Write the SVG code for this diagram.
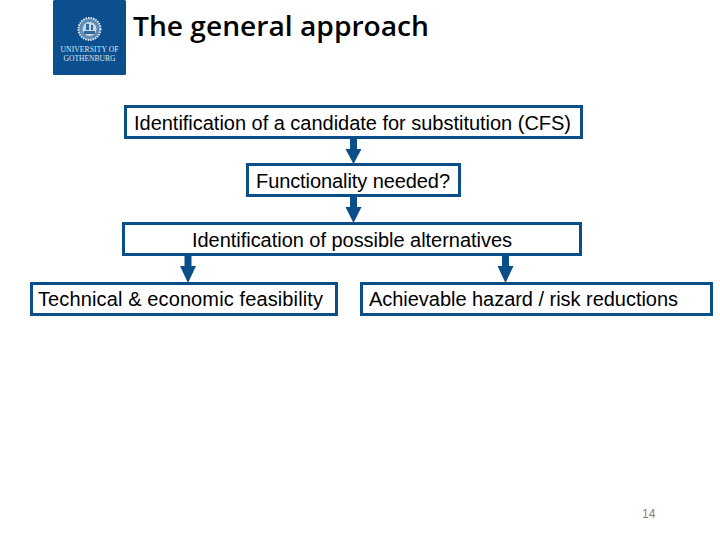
<svg xmlns="http://www.w3.org/2000/svg" width="720" height="540" viewBox="0 0 720 540">
<style>
.box{fill:#fff;stroke:#0b4f8a;stroke-width:3}
.lbl{font-family:"Liberation Sans",Arial,sans-serif;font-size:20px;fill:#000}
.shaft{fill:none;stroke:#0b4f8a;stroke-width:7}
.head{fill:#0b4f8a}
.logo{font-family:"Liberation Serif",serif;font-size:7.500px;fill:#dfe8f2;text-anchor:middle}
</style>
<rect width="720" height="540" fill="#fff"/>
<g id="logo">
<rect x="53" y="0" width="73" height="75" rx="1.500" fill="#0b4f8f"/>
<circle cx="89.500" cy="29" r="11" fill="#5f8ab3" stroke="#dfe8f2" stroke-width="2" stroke-dasharray="1.500 1"/>
<circle cx="89.500" cy="29" r="7" fill="#c9d8e8"/>
<path d="M84 31H95V34H84ZM86 24H89V30H86ZM91 25H93V30H91Z" fill="#33689c"/>
<text class="logo" x="89.500" y="52" textLength="58">UNIVERSITY OF</text>
<text class="logo" x="89.500" y="61" textLength="52">GOTHENBURG</text>
</g>
<text id="title" x="133" y="36" font-family="Open Sans,sans-serif" font-weight="600" font-size="27px" fill="#000" textLength="296" lengthAdjust="spacingAndGlyphs">The general approach</text>
<g id="connectors">
<path class="shaft" d="M353.500 138V151"/><path class="head" d="M345.500 149H361.500L353.500 164Z"/>
<path class="shaft" d="M353.500 196V209"/><path class="head" d="M345.500 207H361.500L353.500 223Z"/>
<path class="shaft" d="M188 255V268"/><path class="head" d="M180 266H196L188 283Z"/>
<path class="shaft" d="M505.500 255V268"/><path class="head" d="M497.500 266H513.500L505.500 283Z"/>
</g>
<g id="n1"><rect class="box" x="125.500" y="106.500" width="456" height="31"/><text class="lbl" x="134" y="130" textLength="437" lengthAdjust="spacing">Identification of a candidate for substitution (CFS)</text></g>
<g id="n2"><rect class="box" x="247.500" y="164.500" width="212" height="31"/><text class="lbl" x="256" y="188" textLength="194" lengthAdjust="spacing">Functionality needed?</text></g>
<g id="n3"><rect class="box" x="123.500" y="223.500" width="457" height="31"/><text class="lbl" x="192" y="247" textLength="320" lengthAdjust="spacing">Identification of possible alternatives</text></g>
<g id="n4"><rect class="box" x="31.500" y="283.500" width="305" height="31"/><text class="lbl" x="38" y="306" textLength="285" lengthAdjust="spacing">Technical &amp; economic feasibility</text></g>
<g id="n5"><rect class="box" x="361.500" y="283.500" width="350" height="31"/><text class="lbl" x="369" y="306" textLength="309" lengthAdjust="spacing">Achievable hazard / risk reductions</text></g>
<text id="page" x="642" y="518" font-family="Liberation Sans,sans-serif" font-size="12px" fill="#7f7f7f">14</text>
</svg>
